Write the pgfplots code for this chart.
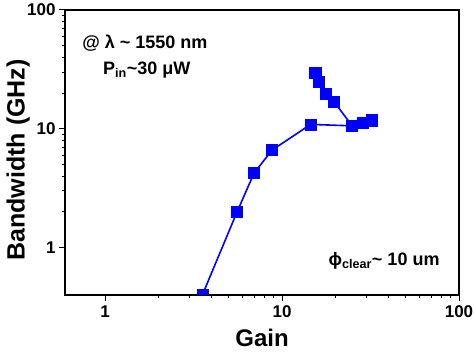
\documentclass[border=0pt]{standalone}
\usepackage{pgfplots}
\pgfplotsset{compat=1.18}
\usepackage{fontspec}
\setmainfont{Liberation Sans}
\definecolor{ptblue}{RGB}{0,0,255}
\begin{document}
\begin{tikzpicture}
\begin{axis}[
  scale only axis,
  width=394pt, height=285pt,
  xmode=log, ymode=log,
  xmin=0.594, xmax=100,
  ymin=0.4, ymax=100,
  xtick={1,10,100}, xticklabels={1,10,100},
  ytick={1,10,100}, yticklabels={1,10,100},
  tick align=outside,
  xtick pos=bottom, ytick pos=left,
  major tick length=6pt, minor tick length=3.5pt,
  every tick/.style={black, line width=1pt},
  axis line style={line width=1.3pt},
  tick label style={font=\fontsize{17}{17}\selectfont\bfseries},
  xticklabel style={yshift=-1pt},
  xlabel={Gain}, ylabel={Bandwidth (GHz)},
  label style={font=\fontsize{24}{24}\selectfont\bfseries, inner sep=0pt},
  xlabel style={at={(axis description cs:0.5,-0.152)}, anchor=center},
  ylabel style={at={(axis description cs:-0.119,0.474)}, anchor=center, font=\fontsize{25}{25}\selectfont\bfseries},
  clip marker paths=true,
  /pgf/number format/assume math mode=true,
]
\addplot[ptblue, line width=1.6pt, mark=square*, mark size=5.6pt, mark options={solid, fill=ptblue, line width=0.5pt}]
  coordinates {(3.55,0.401) (5.57,2.0) (6.95,4.24) (8.78,6.62) (14.5,10.9) (24.9,10.6) (28.6,11.2) (32.2,11.8)};
\addplot[ptblue, line width=1.6pt, mark=square*, mark size=5.6pt, mark options={solid, fill=ptblue, line width=0.5pt}]
  coordinates {(15.4,29.6) (16.2,24.8) (17.7,19.8) (19.7,16.9)};
\addplot[ptblue, line width=1.6pt]
  coordinates {(19.7,16.9) (24.9,10.6)};
\node[anchor=west, font=\fontsize{18}{18}\selectfont\bfseries] at (rel axis cs:0.035,0.884) {@ λ \char"007E{} 1550 nm};
\node[anchor=west, font=\fontsize{18}{18}\selectfont\bfseries] at (rel axis cs:0.088,0.789) {P\textsubscript{in}\char"007E{}30 μW};
\node[anchor=base west, font=\fontsize{18}{18}\selectfont\bfseries] at (rel axis cs:0.66,0.105) {ϕ\textsubscript{clear}\char"007E{} 10 um};
\end{axis}
\pgfresetboundingbox
\path[use as bounding box] (-65pt,-58pt) rectangle (409pt,295pt);
\end{tikzpicture}
\end{document}
